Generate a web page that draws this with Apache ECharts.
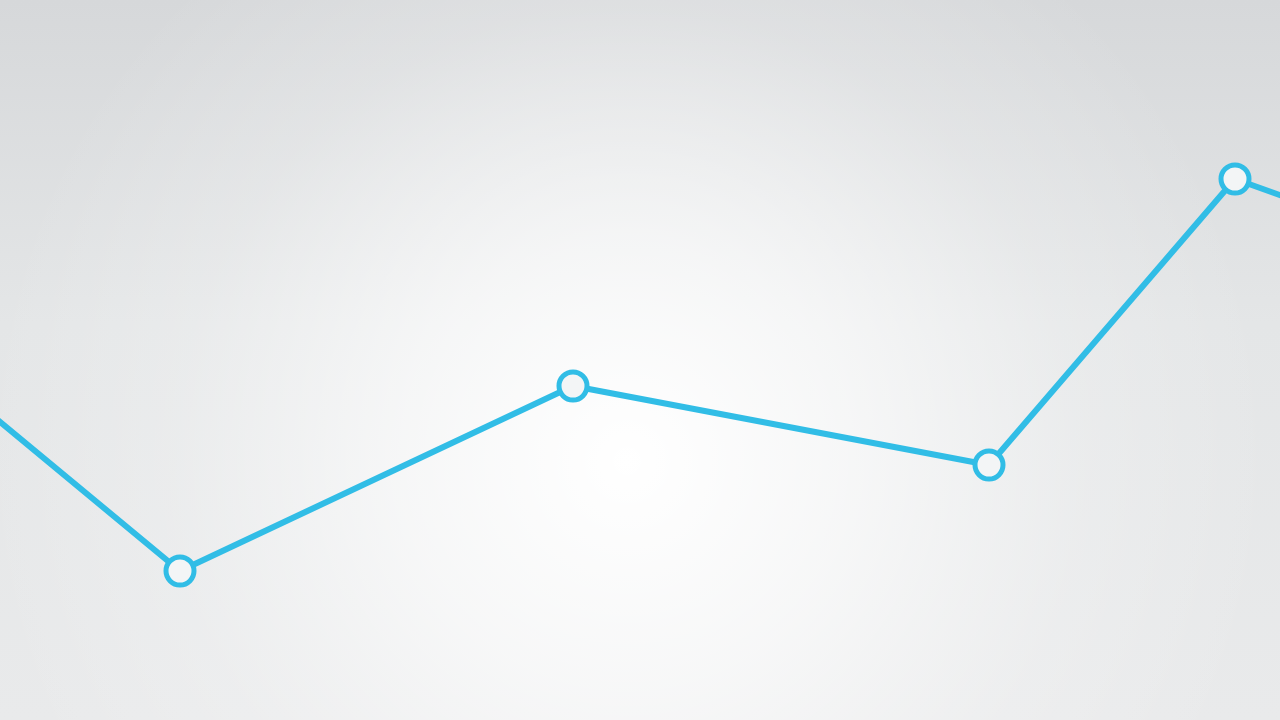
<!DOCTYPE html>
<html>
<head>
<meta charset="utf-8">
<script src="https://cdn.jsdelivr.net/npm/echarts@6/dist/echarts.min.js"></script>
<style>html,body{margin:0;padding:0;background:#e4e6e8}#c{width:1280px;height:720px}</style>
</head>
<body>
<div id="c"></div>
<script>
// x positions (arbitrary units) and values of the line's points
var xValues = [-100, 180, 573, 989, 1235, 1400];
var yValues = [381, 149, 334, 255, 541, 482];
// points with visible markers (the off-canvas end points have none)
var markerShown = [false, true, true, true, true, false];

var chart = echarts.init(document.getElementById('c'));
var data = xValues.map(function (x, i) {
  return {
    value: [x, yValues[i]],
    symbolSize: markerShown[i] ? 28 : 0
  };
});
chart.setOption({
  animation: false,
  graphic: [{
    type: 'rect',
    z: -20,
    silent: true,
    shape: { x: 0, y: 0, width: 1280, height: 720 },
    style: {
      fill: new echarts.graphic.LinearGradient(0, 0, 0, 1, [
        { offset: 0, color: '#d6d8da' },
        { offset: 0.45, color: '#e4e6e7' },
        { offset: 1, color: '#e9eaeb' }
      ])
    }
  }, {
    type: 'rect',
    z: -10,
    silent: true,
    shape: { x: 0, y: 0, width: 1280, height: 720 },
    style: {
      fill: new echarts.graphic.RadialGradient(0.49, 0.64, 0.9, [
        { offset: 0, color: 'rgba(255,255,255,1)' },
        { offset: 0.35, color: 'rgba(255,255,255,0.65)' },
        { offset: 0.7, color: 'rgba(255,255,255,0.2)' },
        { offset: 1, color: 'rgba(255,255,255,0)' }
      ])
    }
  }],
  grid: { left: 0, right: 0, top: 0, bottom: 0 },
  xAxis: { type: 'value', min: 0, max: 1280, show: false },
  yAxis: { type: 'value', min: 0, max: 720, show: false },
  series: [{
    type: 'line',
    data: data,
    clip: true,
    symbol: 'circle',
    lineStyle: { color: '#31bde6', width: 6 },
    itemStyle: { color: '#f3f5f6', borderColor: '#31bde6', borderWidth: 5 },
    z: 2
  }]
});
</script>
</body>
</html>
